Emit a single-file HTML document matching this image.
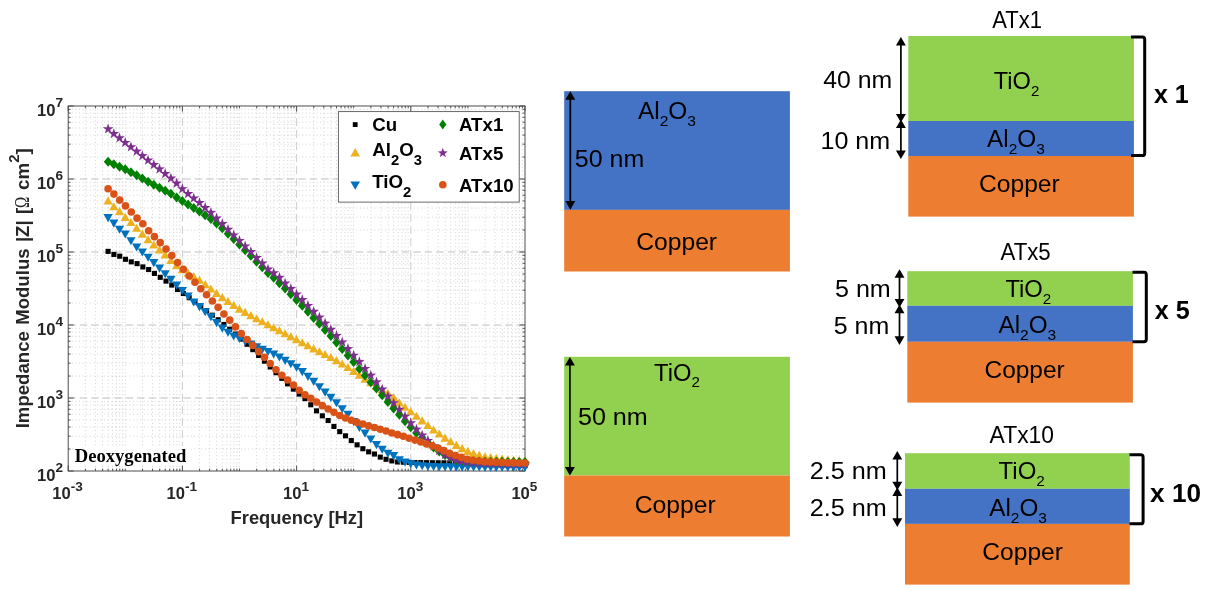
<!DOCTYPE html>
<html><head><meta charset="utf-8"><title>Impedance modulus figure</title>
<style>html,body{margin:0;padding:0;background:#fff}body{width:1207px;height:590px;position:relative;overflow:hidden}</style></head>
<body>
<svg width="1207" height="590" viewBox="0 0 1207 590" style="position:absolute;left:0;top:0">
<rect width="1207" height="590" fill="#fff"/>
<path d="M125.30 106.0V471.0M239.50 106.0V471.0M353.70 106.0V471.0M467.90 106.0V471.0M85.39 106.0V471.0M95.44 106.0V471.0M102.58 106.0V471.0M108.11 106.0V471.0M112.63 106.0V471.0M116.46 106.0V471.0M119.77 106.0V471.0M122.69 106.0V471.0M142.49 106.0V471.0M152.54 106.0V471.0M159.68 106.0V471.0M165.21 106.0V471.0M169.73 106.0V471.0M173.56 106.0V471.0M176.87 106.0V471.0M179.79 106.0V471.0M199.59 106.0V471.0M209.64 106.0V471.0M216.78 106.0V471.0M222.31 106.0V471.0M226.83 106.0V471.0M230.66 106.0V471.0M233.97 106.0V471.0M236.89 106.0V471.0M256.69 106.0V471.0M266.74 106.0V471.0M273.88 106.0V471.0M279.41 106.0V471.0M283.93 106.0V471.0M287.76 106.0V471.0M291.07 106.0V471.0M293.99 106.0V471.0M313.79 106.0V471.0M323.84 106.0V471.0M330.98 106.0V471.0M336.51 106.0V471.0M341.03 106.0V471.0M344.86 106.0V471.0M348.17 106.0V471.0M351.09 106.0V471.0M370.89 106.0V471.0M380.94 106.0V471.0M388.08 106.0V471.0M393.61 106.0V471.0M398.13 106.0V471.0M401.96 106.0V471.0M405.27 106.0V471.0M408.19 106.0V471.0M427.99 106.0V471.0M438.04 106.0V471.0M445.18 106.0V471.0M450.71 106.0V471.0M455.23 106.0V471.0M459.06 106.0V471.0M462.37 106.0V471.0M465.29 106.0V471.0M485.09 106.0V471.0M495.14 106.0V471.0M502.28 106.0V471.0M507.81 106.0V471.0M512.33 106.0V471.0M516.16 106.0V471.0M519.47 106.0V471.0M522.39 106.0V471.0M68.2 449.02H525.0M68.2 436.17H525.0M68.2 427.05H525.0M68.2 419.98H525.0M68.2 414.19H525.0M68.2 409.31H525.0M68.2 405.07H525.0M68.2 401.34H525.0M68.2 376.02H525.0M68.2 363.17H525.0M68.2 354.05H525.0M68.2 346.98H525.0M68.2 341.19H525.0M68.2 336.31H525.0M68.2 332.07H525.0M68.2 328.34H525.0M68.2 303.02H525.0M68.2 290.17H525.0M68.2 281.05H525.0M68.2 273.98H525.0M68.2 268.19H525.0M68.2 263.31H525.0M68.2 259.07H525.0M68.2 255.34H525.0M68.2 230.02H525.0M68.2 217.17H525.0M68.2 208.05H525.0M68.2 200.98H525.0M68.2 195.19H525.0M68.2 190.31H525.0M68.2 186.07H525.0M68.2 182.34H525.0M68.2 157.02H525.0M68.2 144.17H525.0M68.2 135.05H525.0M68.2 127.98H525.0M68.2 122.19H525.0M68.2 117.31H525.0M68.2 113.07H525.0M68.2 109.34H525.0" stroke="#d3d3d3" stroke-width="1" stroke-dasharray="1 2.6" fill="none"/>
<path d="M182.40 106.0V471.0M296.60 106.0V471.0M410.80 106.0V471.0" stroke="#c4c4c4" stroke-width="0.85" stroke-dasharray="8 4" fill="none"/>
<path d="M68.2 398.00H525.0M68.2 325.00H525.0M68.2 252.00H525.0M68.2 179.00H525.0" stroke="#c0c0c0" stroke-width="1.1" stroke-dasharray="7.5 4" fill="none"/>
<rect x="74" y="446" width="115" height="20" fill="#fff"/>
<path d="M68.20 471.0v-5.5M68.20 106.0v5.5M85.39 471.0v-2.4M85.39 106.0v2.4M95.44 471.0v-2.4M95.44 106.0v2.4M102.58 471.0v-2.4M102.58 106.0v2.4M108.11 471.0v-2.4M108.11 106.0v2.4M112.63 471.0v-2.4M112.63 106.0v2.4M116.46 471.0v-2.4M116.46 106.0v2.4M119.77 471.0v-2.4M119.77 106.0v2.4M122.69 471.0v-2.4M122.69 106.0v2.4M125.30 471.0v-2.4M125.30 106.0v2.4M142.49 471.0v-2.4M142.49 106.0v2.4M152.54 471.0v-2.4M152.54 106.0v2.4M159.68 471.0v-2.4M159.68 106.0v2.4M165.21 471.0v-2.4M165.21 106.0v2.4M169.73 471.0v-2.4M169.73 106.0v2.4M173.56 471.0v-2.4M173.56 106.0v2.4M176.87 471.0v-2.4M176.87 106.0v2.4M179.79 471.0v-2.4M179.79 106.0v2.4M182.40 471.0v-5.5M182.40 106.0v5.5M199.59 471.0v-2.4M199.59 106.0v2.4M209.64 471.0v-2.4M209.64 106.0v2.4M216.78 471.0v-2.4M216.78 106.0v2.4M222.31 471.0v-2.4M222.31 106.0v2.4M226.83 471.0v-2.4M226.83 106.0v2.4M230.66 471.0v-2.4M230.66 106.0v2.4M233.97 471.0v-2.4M233.97 106.0v2.4M236.89 471.0v-2.4M236.89 106.0v2.4M239.50 471.0v-2.4M239.50 106.0v2.4M256.69 471.0v-2.4M256.69 106.0v2.4M266.74 471.0v-2.4M266.74 106.0v2.4M273.88 471.0v-2.4M273.88 106.0v2.4M279.41 471.0v-2.4M279.41 106.0v2.4M283.93 471.0v-2.4M283.93 106.0v2.4M287.76 471.0v-2.4M287.76 106.0v2.4M291.07 471.0v-2.4M291.07 106.0v2.4M293.99 471.0v-2.4M293.99 106.0v2.4M296.60 471.0v-5.5M296.60 106.0v5.5M313.79 471.0v-2.4M313.79 106.0v2.4M323.84 471.0v-2.4M323.84 106.0v2.4M330.98 471.0v-2.4M330.98 106.0v2.4M336.51 471.0v-2.4M336.51 106.0v2.4M341.03 471.0v-2.4M341.03 106.0v2.4M344.86 471.0v-2.4M344.86 106.0v2.4M348.17 471.0v-2.4M348.17 106.0v2.4M351.09 471.0v-2.4M351.09 106.0v2.4M353.70 471.0v-2.4M353.70 106.0v2.4M370.89 471.0v-2.4M370.89 106.0v2.4M380.94 471.0v-2.4M380.94 106.0v2.4M388.08 471.0v-2.4M388.08 106.0v2.4M393.61 471.0v-2.4M393.61 106.0v2.4M398.13 471.0v-2.4M398.13 106.0v2.4M401.96 471.0v-2.4M401.96 106.0v2.4M405.27 471.0v-2.4M405.27 106.0v2.4M408.19 471.0v-2.4M408.19 106.0v2.4M410.80 471.0v-5.5M410.80 106.0v5.5M427.99 471.0v-2.4M427.99 106.0v2.4M438.04 471.0v-2.4M438.04 106.0v2.4M445.18 471.0v-2.4M445.18 106.0v2.4M450.71 471.0v-2.4M450.71 106.0v2.4M455.23 471.0v-2.4M455.23 106.0v2.4M459.06 471.0v-2.4M459.06 106.0v2.4M462.37 471.0v-2.4M462.37 106.0v2.4M465.29 471.0v-2.4M465.29 106.0v2.4M467.90 471.0v-2.4M467.90 106.0v2.4M485.09 471.0v-2.4M485.09 106.0v2.4M495.14 471.0v-2.4M495.14 106.0v2.4M502.28 471.0v-2.4M502.28 106.0v2.4M507.81 471.0v-2.4M507.81 106.0v2.4M512.33 471.0v-2.4M512.33 106.0v2.4M516.16 471.0v-2.4M516.16 106.0v2.4M519.47 471.0v-2.4M519.47 106.0v2.4M522.39 471.0v-2.4M522.39 106.0v2.4M525.00 471.0v-5.5M525.00 106.0v5.5M68.2 471.00h5.5M525.0 471.00h-5.5M68.2 449.02h2.4M525.0 449.02h-2.4M68.2 436.17h2.4M525.0 436.17h-2.4M68.2 427.05h2.4M525.0 427.05h-2.4M68.2 419.98h2.4M525.0 419.98h-2.4M68.2 414.19h2.4M525.0 414.19h-2.4M68.2 409.31h2.4M525.0 409.31h-2.4M68.2 405.07h2.4M525.0 405.07h-2.4M68.2 401.34h2.4M525.0 401.34h-2.4M68.2 398.00h5.5M525.0 398.00h-5.5M68.2 376.02h2.4M525.0 376.02h-2.4M68.2 363.17h2.4M525.0 363.17h-2.4M68.2 354.05h2.4M525.0 354.05h-2.4M68.2 346.98h2.4M525.0 346.98h-2.4M68.2 341.19h2.4M525.0 341.19h-2.4M68.2 336.31h2.4M525.0 336.31h-2.4M68.2 332.07h2.4M525.0 332.07h-2.4M68.2 328.34h2.4M525.0 328.34h-2.4M68.2 325.00h5.5M525.0 325.00h-5.5M68.2 303.02h2.4M525.0 303.02h-2.4M68.2 290.17h2.4M525.0 290.17h-2.4M68.2 281.05h2.4M525.0 281.05h-2.4M68.2 273.98h2.4M525.0 273.98h-2.4M68.2 268.19h2.4M525.0 268.19h-2.4M68.2 263.31h2.4M525.0 263.31h-2.4M68.2 259.07h2.4M525.0 259.07h-2.4M68.2 255.34h2.4M525.0 255.34h-2.4M68.2 252.00h5.5M525.0 252.00h-5.5M68.2 230.02h2.4M525.0 230.02h-2.4M68.2 217.17h2.4M525.0 217.17h-2.4M68.2 208.05h2.4M525.0 208.05h-2.4M68.2 200.98h2.4M525.0 200.98h-2.4M68.2 195.19h2.4M525.0 195.19h-2.4M68.2 190.31h2.4M525.0 190.31h-2.4M68.2 186.07h2.4M525.0 186.07h-2.4M68.2 182.34h2.4M525.0 182.34h-2.4M68.2 179.00h5.5M525.0 179.00h-5.5M68.2 157.02h2.4M525.0 157.02h-2.4M68.2 144.17h2.4M525.0 144.17h-2.4M68.2 135.05h2.4M525.0 135.05h-2.4M68.2 127.98h2.4M525.0 127.98h-2.4M68.2 122.19h2.4M525.0 122.19h-2.4M68.2 117.31h2.4M525.0 117.31h-2.4M68.2 113.07h2.4M525.0 113.07h-2.4M68.2 109.34h2.4M525.0 109.34h-2.4M68.2 106.00h5.5M525.0 106.00h-5.5" stroke="#444" stroke-width="0.9" fill="none"/>
<rect x="68.2" y="106.0" width="456.8" height="365.0" fill="none" stroke="#444" stroke-width="0.95"/>
<clipPath id="pc"><rect x="62.2" y="100.0" width="468.8" height="377.0"/></clipPath>
<g fill="#000000" clip-path="url(#pc)"><rect x="105.56" y="248.82" width="5.1" height="5.1"/><rect x="111.35" y="251.87" width="5.1" height="5.1"/><rect x="117.14" y="253.65" width="5.1" height="5.1"/><rect x="122.93" y="256.74" width="5.1" height="5.1"/><rect x="128.72" y="259.31" width="5.1" height="5.1"/><rect x="134.51" y="261.07" width="5.1" height="5.1"/><rect x="140.30" y="264.38" width="5.1" height="5.1"/><rect x="146.09" y="266.98" width="5.1" height="5.1"/><rect x="151.88" y="270.84" width="5.1" height="5.1"/><rect x="157.67" y="274.76" width="5.1" height="5.1"/><rect x="163.46" y="278.56" width="5.1" height="5.1"/><rect x="169.25" y="282.52" width="5.1" height="5.1"/><rect x="175.04" y="286.95" width="5.1" height="5.1"/><rect x="180.83" y="290.97" width="5.1" height="5.1"/><rect x="186.62" y="295.16" width="5.1" height="5.1"/><rect x="192.41" y="299.42" width="5.1" height="5.1"/><rect x="198.20" y="303.75" width="5.1" height="5.1"/><rect x="203.99" y="308.15" width="5.1" height="5.1"/><rect x="209.78" y="312.64" width="5.1" height="5.1"/><rect x="215.57" y="317.21" width="5.1" height="5.1"/><rect x="221.36" y="321.89" width="5.1" height="5.1"/><rect x="227.15" y="326.65" width="5.1" height="5.1"/><rect x="232.94" y="331.52" width="5.1" height="5.1"/><rect x="238.73" y="336.53" width="5.1" height="5.1"/><rect x="244.52" y="341.70" width="5.1" height="5.1"/><rect x="250.31" y="347.09" width="5.1" height="5.1"/><rect x="256.10" y="352.89" width="5.1" height="5.1"/><rect x="261.89" y="358.63" width="5.1" height="5.1"/><rect x="267.68" y="364.41" width="5.1" height="5.1"/><rect x="273.47" y="370.15" width="5.1" height="5.1"/><rect x="279.26" y="375.80" width="5.1" height="5.1"/><rect x="285.05" y="381.29" width="5.1" height="5.1"/><rect x="290.85" y="386.56" width="5.1" height="5.1"/><rect x="296.64" y="391.53" width="5.1" height="5.1"/><rect x="302.43" y="396.09" width="5.1" height="5.1"/><rect x="308.22" y="402.22" width="5.1" height="5.1"/><rect x="314.01" y="408.30" width="5.1" height="5.1"/><rect x="319.80" y="413.29" width="5.1" height="5.1"/><rect x="325.59" y="417.96" width="5.1" height="5.1"/><rect x="331.38" y="423.87" width="5.1" height="5.1"/><rect x="337.17" y="429.08" width="5.1" height="5.1"/><rect x="342.96" y="433.29" width="5.1" height="5.1"/><rect x="348.75" y="438.04" width="5.1" height="5.1"/><rect x="354.54" y="442.29" width="5.1" height="5.1"/><rect x="360.33" y="446.16" width="5.1" height="5.1"/><rect x="366.12" y="449.29" width="5.1" height="5.1"/><rect x="371.91" y="451.47" width="5.1" height="5.1"/><rect x="377.70" y="454.56" width="5.1" height="5.1"/><rect x="383.49" y="456.75" width="5.1" height="5.1"/><rect x="389.28" y="458.33" width="5.1" height="5.1"/><rect x="395.07" y="459.44" width="5.1" height="5.1"/><rect x="400.86" y="459.66" width="5.1" height="5.1"/><rect x="406.65" y="459.82" width="5.1" height="5.1"/><rect x="412.44" y="459.96" width="5.1" height="5.1"/><rect x="418.23" y="460.06" width="5.1" height="5.1"/><rect x="424.02" y="460.13" width="5.1" height="5.1"/><rect x="429.81" y="460.18" width="5.1" height="5.1"/><rect x="435.60" y="460.22" width="5.1" height="5.1"/><rect x="441.39" y="460.25" width="5.1" height="5.1"/><rect x="447.18" y="460.28" width="5.1" height="5.1"/><rect x="452.97" y="460.30" width="5.1" height="5.1"/><rect x="458.76" y="460.32" width="5.1" height="5.1"/><rect x="464.55" y="460.35" width="5.1" height="5.1"/><rect x="470.34" y="460.36" width="5.1" height="5.1"/><rect x="476.13" y="460.38" width="5.1" height="5.1"/><rect x="481.92" y="460.40" width="5.1" height="5.1"/><rect x="487.71" y="460.41" width="5.1" height="5.1"/><rect x="493.50" y="460.42" width="5.1" height="5.1"/><rect x="499.29" y="460.43" width="5.1" height="5.1"/><rect x="505.08" y="460.44" width="5.1" height="5.1"/><rect x="510.87" y="460.45" width="5.1" height="5.1"/><rect x="516.66" y="460.45" width="5.1" height="5.1"/><rect x="522.45" y="460.45" width="5.1" height="5.1"/></g>
<g fill="#EDB120" clip-path="url(#pc)"><path d="M108.11 196.49L112.71 204.59H103.51Z"/><path d="M113.82 202.13L118.42 210.23H109.22Z"/><path d="M119.53 207.06L124.13 215.16H114.93Z"/><path d="M125.24 212.80L129.84 220.90H120.64Z"/><path d="M130.95 218.01L135.55 226.11H126.35Z"/><path d="M136.66 223.71L141.26 231.81H132.06Z"/><path d="M142.37 229.62L146.97 237.72H137.77Z"/><path d="M148.08 235.15L152.68 243.25H143.48Z"/><path d="M153.79 240.49L158.39 248.59H149.19Z"/><path d="M159.50 245.41L164.10 253.51H154.90Z"/><path d="M165.21 250.40L169.81 258.50H160.61Z"/><path d="M170.92 255.89L175.52 263.99H166.32Z"/><path d="M176.63 261.14L181.23 269.24H172.03Z"/><path d="M182.34 265.20L186.94 273.30H177.74Z"/><path d="M188.05 268.68L192.65 276.78H183.45Z"/><path d="M193.76 272.04L198.36 280.14H189.16Z"/><path d="M199.47 275.71L204.07 283.81H194.87Z"/><path d="M205.18 280.05L209.78 288.15H200.58Z"/><path d="M210.89 284.50L215.49 292.60H206.29Z"/><path d="M216.60 288.78L221.20 296.88H212.00Z"/><path d="M222.31 293.09L226.91 301.19H217.71Z"/><path d="M228.02 297.02L232.62 305.12H223.42Z"/><path d="M233.73 300.97L238.33 309.07H229.13Z"/><path d="M239.44 304.55L244.04 312.65H234.84Z"/><path d="M245.15 307.85L249.75 315.95H240.55Z"/><path d="M250.86 311.04L255.46 319.14H246.26Z"/><path d="M256.57 314.16L261.17 322.26H251.97Z"/><path d="M262.28 317.21L266.88 325.31H257.68Z"/><path d="M267.99 320.22L272.59 328.32H263.39Z"/><path d="M273.70 323.21L278.30 331.31H269.10Z"/><path d="M279.41 326.17L284.01 334.27H274.81Z"/><path d="M285.12 329.14L289.72 337.24H280.52Z"/><path d="M290.83 332.13L295.43 340.23H286.23Z"/><path d="M296.54 335.15L301.14 343.25H291.94Z"/><path d="M302.25 338.20L306.85 346.30H297.65Z"/><path d="M307.96 341.27L312.56 349.37H303.36Z"/><path d="M313.67 344.28L318.27 352.38H309.07Z"/><path d="M319.38 347.16L323.98 355.26H314.78Z"/><path d="M325.09 349.98L329.69 358.08H320.49Z"/><path d="M330.80 352.93L335.40 361.03H326.20Z"/><path d="M336.51 356.12L341.11 364.22H331.91Z"/><path d="M342.22 359.49L346.82 367.59H337.62Z"/><path d="M347.93 363.02L352.53 371.12H343.33Z"/><path d="M353.64 366.78L358.24 374.88H349.04Z"/><path d="M359.35 370.73L363.95 378.83H354.75Z"/><path d="M365.06 374.55L369.66 382.65H360.46Z"/><path d="M370.77 378.08L375.37 386.18H366.17Z"/><path d="M376.48 381.54L381.08 389.64H371.88Z"/><path d="M382.19 385.14L386.79 393.24H377.59Z"/><path d="M387.90 388.77L392.50 396.87H383.30Z"/><path d="M393.61 392.92L398.21 401.02H389.01Z"/><path d="M399.32 398.35L403.92 406.45H394.72Z"/><path d="M405.03 402.77L409.63 410.87H400.43Z"/><path d="M410.74 407.18L415.34 415.28H406.14Z"/><path d="M416.45 411.73L421.05 419.83H411.85Z"/><path d="M422.16 416.36L426.76 424.46H417.56Z"/><path d="M427.87 420.97L432.47 429.07H423.27Z"/><path d="M433.58 425.41L438.18 433.51H428.98Z"/><path d="M439.29 429.52L443.89 437.62H434.69Z"/><path d="M445.00 433.58L449.60 441.68H440.40Z"/><path d="M450.71 437.16L455.31 445.26H446.11Z"/><path d="M456.42 440.86L461.02 448.96H451.82Z"/><path d="M462.13 444.11L466.73 452.21H457.53Z"/><path d="M467.84 446.83L472.44 454.93H463.24Z"/><path d="M473.55 448.90L478.15 457.00H468.95Z"/><path d="M479.26 450.75L483.86 458.85H474.66Z"/><path d="M484.97 452.19L489.57 460.29H480.37Z"/><path d="M490.68 452.98L495.28 461.08H486.08Z"/><path d="M496.39 453.76L500.99 461.86H491.79Z"/><path d="M502.10 454.52L506.70 462.62H497.50Z"/><path d="M507.81 455.13L512.41 463.23H503.21Z"/><path d="M513.52 455.65L518.12 463.75H508.92Z"/><path d="M519.23 456.10L523.83 464.20H514.63Z"/><path d="M524.94 456.45L529.54 464.55H520.34Z"/></g>
<g fill="#0072BD" clip-path="url(#pc)"><path d="M108.11 222.21L112.71 214.11H103.51Z"/><path d="M113.82 227.69L118.42 219.59H109.22Z"/><path d="M119.53 233.85L124.13 225.75H114.93Z"/><path d="M125.24 238.50L129.84 230.40H120.64Z"/><path d="M130.95 245.28L135.55 237.18H126.35Z"/><path d="M136.66 251.52L141.26 243.42H132.06Z"/><path d="M142.37 256.57L146.97 248.47H137.77Z"/><path d="M148.08 261.75L152.68 253.65H143.48Z"/><path d="M153.79 267.15L158.39 259.05H149.19Z"/><path d="M159.50 272.67L164.10 264.57H154.90Z"/><path d="M165.21 278.27L169.81 270.17H160.61Z"/><path d="M170.92 283.90L175.52 275.80H166.32Z"/><path d="M176.63 289.53L181.23 281.43H172.03Z"/><path d="M182.34 295.11L186.94 287.01H177.74Z"/><path d="M188.05 300.60L192.65 292.50H183.45Z"/><path d="M193.76 306.54L198.36 298.44H189.16Z"/><path d="M199.47 311.13L204.07 303.03H194.87Z"/><path d="M205.18 316.28L209.78 308.18H200.58Z"/><path d="M210.89 321.28L215.49 313.18H206.29Z"/><path d="M216.60 327.15L221.20 319.05H212.00Z"/><path d="M222.31 332.68L226.91 324.58H217.71Z"/><path d="M228.02 336.76L232.62 328.66H223.42Z"/><path d="M233.73 340.59L238.33 332.49H229.13Z"/><path d="M239.44 343.01L244.04 334.91H234.84Z"/><path d="M245.15 345.67L249.75 337.57H240.55Z"/><path d="M250.86 348.57L255.46 340.47H246.26Z"/><path d="M256.57 351.42L261.17 343.32H251.97Z"/><path d="M262.28 353.91L266.88 345.81H257.68Z"/><path d="M267.99 356.12L272.59 348.02H263.39Z"/><path d="M273.70 358.48L278.30 350.38H269.10Z"/><path d="M279.41 361.50L284.01 353.40H274.81Z"/><path d="M285.12 364.88L289.72 356.78H280.52Z"/><path d="M290.83 368.35L295.43 360.25H286.23Z"/><path d="M296.54 371.74L301.14 363.64H291.94Z"/><path d="M302.25 376.21L306.85 368.11H297.65Z"/><path d="M307.96 380.94L312.56 372.84H303.36Z"/><path d="M313.67 385.91L318.27 377.81H309.07Z"/><path d="M319.38 391.27L323.98 383.17H314.78Z"/><path d="M325.09 396.71L329.69 388.61H320.49Z"/><path d="M330.80 401.92L335.40 393.82H326.20Z"/><path d="M336.51 407.36L341.11 399.26H331.91Z"/><path d="M342.22 413.35L346.82 405.25H337.62Z"/><path d="M347.93 418.74L352.53 410.64H343.33Z"/><path d="M353.64 425.98L358.24 417.88H349.04Z"/><path d="M359.35 432.01L363.95 423.91H354.75Z"/><path d="M365.06 437.70L369.66 429.60H360.46Z"/><path d="M370.77 443.62L375.37 435.52H366.17Z"/><path d="M376.48 449.15L381.08 441.05H371.88Z"/><path d="M382.19 453.76L386.79 445.66H377.59Z"/><path d="M387.90 457.78L392.50 449.68H383.30Z"/><path d="M393.61 460.18L398.21 452.08H389.01Z"/><path d="M399.32 464.32L403.92 456.22H394.72Z"/><path d="M405.03 466.52L409.63 458.42H400.43Z"/><path d="M410.74 468.30L415.34 460.20H406.14Z"/><path d="M416.45 469.62L421.05 461.52H411.85Z"/><path d="M422.16 470.26L426.76 462.16H417.56Z"/><path d="M427.87 470.74L432.47 462.64H423.27Z"/><path d="M433.58 471.07L438.18 462.97H428.98Z"/><path d="M439.29 471.24L443.89 463.14H434.69Z"/><path d="M445.00 471.31L449.60 463.21H440.40Z"/><path d="M450.71 471.38L455.31 463.28H446.11Z"/><path d="M456.42 471.44L461.02 463.34H451.82Z"/><path d="M462.13 471.49L466.73 463.39H457.53Z"/><path d="M467.84 471.54L472.44 463.44H463.24Z"/><path d="M473.55 471.58L478.15 463.48H468.95Z"/><path d="M479.26 471.62L483.86 463.52H474.66Z"/><path d="M484.97 471.65L489.57 463.55H480.37Z"/><path d="M490.68 471.68L495.28 463.58H486.08Z"/><path d="M496.39 471.70L500.99 463.60H491.79Z"/><path d="M502.10 471.72L506.70 463.62H497.50Z"/><path d="M507.81 471.73L512.41 463.63H503.21Z"/><path d="M513.52 471.74L518.12 463.64H508.92Z"/><path d="M519.23 471.75L523.83 463.65H514.63Z"/><path d="M524.94 471.75L529.54 463.65H520.34Z"/></g>
<g fill="#008000" clip-path="url(#pc)"><path d="M108.11 156.86L112.41 161.86L108.11 166.86L103.81 161.86Z"/><path d="M113.82 159.16L118.12 164.16L113.82 169.16L109.52 164.16Z"/><path d="M119.53 161.65L123.83 166.65L119.53 171.65L115.23 166.65Z"/><path d="M125.24 164.35L129.54 169.35L125.24 174.35L120.94 169.35Z"/><path d="M130.95 167.22L135.25 172.22L130.95 177.22L126.65 172.22Z"/><path d="M136.66 170.29L140.96 175.29L136.66 180.29L132.36 175.29Z"/><path d="M142.37 173.46L146.67 178.46L142.37 183.46L138.07 178.46Z"/><path d="M148.08 176.66L152.38 181.66L148.08 186.66L143.78 181.66Z"/><path d="M153.79 179.83L158.09 184.83L153.79 189.83L149.49 184.83Z"/><path d="M159.50 182.81L163.80 187.81L159.50 192.81L155.20 187.81Z"/><path d="M165.21 185.74L169.51 190.74L165.21 195.74L160.91 190.74Z"/><path d="M170.92 188.77L175.22 193.77L170.92 198.77L166.62 193.77Z"/><path d="M176.63 192.53L180.93 197.53L176.63 202.53L172.33 197.53Z"/><path d="M182.34 195.99L186.64 200.99L182.34 205.99L178.04 200.99Z"/><path d="M188.05 199.48L192.35 204.48L188.05 209.48L183.75 204.48Z"/><path d="M193.76 202.97L198.06 207.97L193.76 212.97L189.46 207.97Z"/><path d="M199.47 206.46L203.77 211.46L199.47 216.46L195.17 211.46Z"/><path d="M205.18 210.13L209.48 215.13L205.18 220.13L200.88 215.13Z"/><path d="M210.89 213.93L215.19 218.93L210.89 223.93L206.59 218.93Z"/><path d="M216.60 218.48L220.90 223.48L216.60 228.48L212.30 223.48Z"/><path d="M222.31 223.34L226.61 228.34L222.31 233.34L218.01 228.34Z"/><path d="M228.02 228.77L232.32 233.77L228.02 238.77L223.72 233.77Z"/><path d="M233.73 233.90L238.03 238.90L233.73 243.90L229.43 238.90Z"/><path d="M239.44 239.53L243.74 244.53L239.44 249.53L235.14 244.53Z"/><path d="M245.15 245.26L249.45 250.26L245.15 255.26L240.85 250.26Z"/><path d="M250.86 250.86L255.16 255.86L250.86 260.86L246.56 255.86Z"/><path d="M256.57 256.75L260.87 261.75L256.57 266.75L252.27 261.75Z"/><path d="M262.28 262.33L266.58 267.33L262.28 272.33L257.98 267.33Z"/><path d="M267.99 267.97L272.29 272.97L267.99 277.97L263.69 272.97Z"/><path d="M273.70 272.81L278.00 277.81L273.70 282.81L269.40 277.81Z"/><path d="M279.41 278.24L283.71 283.24L279.41 288.24L275.11 283.24Z"/><path d="M285.12 283.58L289.42 288.58L285.12 293.58L280.82 288.58Z"/><path d="M290.83 289.21L295.13 294.21L290.83 299.21L286.53 294.21Z"/><path d="M296.54 295.10L300.84 300.10L296.54 305.10L292.24 300.10Z"/><path d="M302.25 300.83L306.55 305.83L302.25 310.83L297.95 305.83Z"/><path d="M307.96 306.87L312.26 311.87L307.96 316.87L303.66 311.87Z"/><path d="M313.67 312.91L317.97 317.91L313.67 322.91L309.37 317.91Z"/><path d="M319.38 318.82L323.68 323.82L319.38 328.82L315.08 323.82Z"/><path d="M325.09 324.89L329.39 329.89L325.09 334.89L320.79 329.89Z"/><path d="M330.80 330.96L335.10 335.96L330.80 340.96L326.50 335.96Z"/><path d="M336.51 337.38L340.81 342.38L336.51 347.38L332.21 342.38Z"/><path d="M342.22 343.89L346.52 348.89L342.22 353.89L337.92 348.89Z"/><path d="M347.93 350.45L352.23 355.45L347.93 360.45L343.63 355.45Z"/><path d="M353.64 357.11L357.94 362.11L353.64 367.11L349.34 362.11Z"/><path d="M359.35 364.01L363.65 369.01L359.35 374.01L355.05 369.01Z"/><path d="M365.06 370.60L369.36 375.60L365.06 380.60L360.76 375.60Z"/><path d="M370.77 377.26L375.07 382.26L370.77 387.26L366.47 382.26Z"/><path d="M376.48 383.60L380.78 388.60L376.48 393.60L372.18 388.60Z"/><path d="M382.19 390.19L386.49 395.19L382.19 400.19L377.89 395.19Z"/><path d="M387.90 396.99L392.20 401.99L387.90 406.99L383.60 401.99Z"/><path d="M393.61 403.45L397.91 408.45L393.61 413.45L389.31 408.45Z"/><path d="M399.32 409.85L403.62 414.85L399.32 419.85L395.02 414.85Z"/><path d="M405.03 416.19L409.33 421.19L405.03 426.19L400.73 421.19Z"/><path d="M410.74 422.28L415.04 427.28L410.74 432.28L406.44 427.28Z"/><path d="M416.45 427.91L420.75 432.91L416.45 437.91L412.15 432.91Z"/><path d="M422.16 432.86L426.46 437.86L422.16 442.86L417.86 437.86Z"/><path d="M427.87 437.63L432.17 442.63L427.87 447.63L423.57 442.63Z"/><path d="M433.58 442.53L437.88 447.53L433.58 452.53L429.28 447.53Z"/><path d="M439.29 446.38L443.59 451.38L439.29 456.38L434.99 451.38Z"/><path d="M445.00 449.97L449.30 454.97L445.00 459.97L440.70 454.97Z"/><path d="M450.71 452.84L455.01 457.84L450.71 462.84L446.41 457.84Z"/><path d="M456.42 454.99L460.72 459.99L456.42 464.99L452.12 459.99Z"/><path d="M462.13 455.56L466.43 460.56L462.13 465.56L457.83 460.56Z"/><path d="M467.84 455.89L472.14 460.89L467.84 465.89L463.54 460.89Z"/><path d="M473.55 456.17L477.85 461.17L473.55 466.17L469.25 461.17Z"/><path d="M479.26 456.41L483.56 461.41L479.26 466.41L474.96 461.41Z"/><path d="M484.97 456.60L489.27 461.60L484.97 466.60L480.67 461.60Z"/><path d="M490.68 456.71L494.98 461.71L490.68 466.71L486.38 461.71Z"/><path d="M496.39 456.79L500.69 461.79L496.39 466.79L492.09 461.79Z"/><path d="M502.10 456.86L506.40 461.86L502.10 466.86L497.80 461.86Z"/><path d="M507.81 456.92L512.11 461.92L507.81 466.92L503.51 461.92Z"/><path d="M513.52 456.96L517.82 461.96L513.52 466.96L509.22 461.96Z"/><path d="M519.23 456.99L523.53 461.99L519.23 466.99L514.93 461.99Z"/><path d="M524.94 457.00L529.24 462.00L524.94 467.00L520.64 462.00Z"/></g>
<g fill="#7E2F8E" clip-path="url(#pc)"><path d="M108.11 123.48L109.40 127.30L113.44 127.35L110.20 129.76L111.40 133.61L108.11 131.28L104.82 133.61L106.02 129.76L102.79 127.35L106.82 127.30Z"/><path d="M113.82 128.19L115.11 132.01L119.15 132.06L115.91 134.47L117.11 138.32L113.82 135.99L110.53 138.32L111.73 134.47L108.50 132.06L112.53 132.01Z"/><path d="M119.53 132.42L120.82 136.24L124.86 136.29L121.62 138.70L122.82 142.55L119.53 140.22L116.24 142.55L117.44 138.70L114.21 136.29L118.24 136.24Z"/><path d="M125.24 137.07L126.53 140.89L130.57 140.94L127.33 143.35L128.53 147.21L125.24 144.87L121.95 147.21L123.15 143.35L119.92 140.94L123.95 140.89Z"/><path d="M130.95 141.44L132.24 145.26L136.28 145.30L133.04 147.71L134.24 151.57L130.95 149.24L127.66 151.57L128.86 147.71L125.63 145.30L129.66 145.26Z"/><path d="M136.66 145.76L137.95 149.58L141.99 149.63L138.75 152.04L139.95 155.89L136.66 153.56L133.37 155.89L134.57 152.04L131.34 149.63L135.37 149.58Z"/><path d="M142.37 150.29L143.66 154.11L147.70 154.16L144.46 156.57L145.66 160.42L142.37 158.09L139.08 160.42L140.28 156.57L137.05 154.16L141.08 154.11Z"/><path d="M148.08 154.64L149.37 158.46L153.41 158.51L150.17 160.92L151.37 164.77L148.08 162.44L144.79 164.77L145.99 160.92L142.76 158.51L146.79 158.46Z"/><path d="M153.79 159.19L155.08 163.01L159.12 163.06L155.88 165.47L157.08 169.32L153.79 166.99L150.50 169.32L151.70 165.47L148.47 163.06L152.50 163.01Z"/><path d="M159.50 163.53L160.79 167.35L164.83 167.40L161.59 169.81L162.79 173.66L159.50 171.33L156.21 173.66L157.41 169.81L154.18 167.40L158.21 167.35Z"/><path d="M165.21 168.08L166.50 171.90L170.54 171.95L167.30 174.36L168.50 178.21L165.21 175.88L161.92 178.21L163.12 174.36L159.89 171.95L163.92 171.90Z"/><path d="M170.92 172.69L172.21 176.51L176.25 176.56L173.01 178.97L174.21 182.82L170.92 180.49L167.63 182.82L168.83 178.97L165.60 176.56L169.63 176.51Z"/><path d="M176.63 177.79L177.92 181.61L181.96 181.66L178.72 184.07L179.92 187.92L176.63 185.59L173.34 187.92L174.54 184.07L171.31 181.66L175.34 181.61Z"/><path d="M182.34 183.32L183.63 187.14L187.67 187.18L184.43 189.59L185.63 193.45L182.34 191.12L179.05 193.45L180.25 189.59L177.02 187.18L181.05 187.14Z"/><path d="M188.05 188.12L189.34 191.94L193.38 191.99L190.14 194.40L191.34 198.25L188.05 195.92L184.76 198.25L185.96 194.40L182.73 191.99L186.76 191.94Z"/><path d="M193.76 192.68L195.05 196.50L199.09 196.55L195.85 198.96L197.05 202.81L193.76 200.48L190.47 202.81L191.67 198.96L188.44 196.55L192.47 196.50Z"/><path d="M199.47 197.16L200.76 200.98L204.80 201.03L201.56 203.44L202.76 207.29L199.47 204.96L196.18 207.29L197.38 203.44L194.15 201.03L198.18 200.98Z"/><path d="M205.18 202.10L206.47 205.92L210.51 205.97L207.27 208.38L208.47 212.23L205.18 209.90L201.89 212.23L203.09 208.38L199.86 205.97L203.89 205.92Z"/><path d="M210.89 207.01L212.18 210.83L216.22 210.88L212.98 213.29L214.18 217.14L210.89 214.81L207.60 217.14L208.80 213.29L205.57 210.88L209.60 210.83Z"/><path d="M216.60 212.60L217.89 216.42L221.93 216.47L218.69 218.88L219.89 222.73L216.60 220.40L213.31 222.73L214.51 218.88L211.28 216.47L215.31 216.42Z"/><path d="M222.31 218.13L223.60 221.95L227.64 222.00L224.40 224.41L225.60 228.26L222.31 225.93L219.02 228.26L220.22 224.41L216.99 222.00L221.02 221.95Z"/><path d="M228.02 224.00L229.31 227.82L233.35 227.87L230.11 230.28L231.31 234.14L228.02 231.80L224.73 234.14L225.93 230.28L222.70 227.87L226.73 227.82Z"/><path d="M233.73 229.57L235.02 233.39L239.06 233.44L235.82 235.85L237.02 239.70L233.73 237.37L230.44 239.70L231.64 235.85L228.41 233.44L232.44 233.39Z"/><path d="M239.44 235.08L240.73 238.90L244.77 238.95L241.53 241.36L242.73 245.21L239.44 242.88L236.15 245.21L237.35 241.36L234.12 238.95L238.15 238.90Z"/><path d="M245.15 240.59L246.44 244.41L250.48 244.45L247.24 246.87L248.44 250.72L245.15 248.39L241.86 250.72L243.06 246.87L239.83 244.45L243.86 244.41Z"/><path d="M250.86 246.15L252.15 249.98L256.19 250.02L252.95 252.43L254.15 256.29L250.86 253.95L247.57 256.29L248.77 252.43L245.54 250.02L249.57 249.98Z"/><path d="M256.57 252.14L257.86 255.96L261.90 256.01L258.66 258.42L259.86 262.27L256.57 259.94L253.28 262.27L254.48 258.42L251.25 256.01L255.28 255.96Z"/><path d="M262.28 257.72L263.57 261.54L267.61 261.58L264.37 264.00L265.57 267.85L262.28 265.52L258.99 267.85L260.19 264.00L256.96 261.58L260.99 261.54Z"/><path d="M267.99 263.64L269.28 267.46L273.32 267.51L270.08 269.92L271.28 273.77L267.99 271.44L264.70 273.77L265.90 269.92L262.67 267.51L266.70 267.46Z"/><path d="M273.70 267.45L274.99 271.27L279.03 271.32L275.79 273.73L276.99 277.58L273.70 275.25L270.41 277.58L271.61 273.73L268.38 271.32L272.41 271.27Z"/><path d="M279.41 272.01L280.70 275.83L284.74 275.88L281.50 278.29L282.70 282.14L279.41 279.81L276.12 282.14L277.32 278.29L274.09 275.88L278.12 275.83Z"/><path d="M285.12 277.67L286.41 281.49L290.45 281.54L287.21 283.95L288.41 287.80L285.12 285.47L281.83 287.80L283.03 283.95L279.80 281.54L283.83 281.49Z"/><path d="M290.83 283.16L292.12 286.98L296.16 287.03L292.92 289.44L294.12 293.29L290.83 290.96L287.54 293.29L288.74 289.44L285.51 287.03L289.54 286.98Z"/><path d="M296.54 288.68L297.83 292.50L301.87 292.55L298.63 294.96L299.83 298.81L296.54 296.48L293.25 298.81L294.45 294.96L291.22 292.55L295.25 292.50Z"/><path d="M302.25 294.21L303.54 298.03L307.58 298.08L304.34 300.49L305.54 304.34L302.25 302.01L298.96 304.34L300.16 300.49L296.93 298.08L300.96 298.03Z"/><path d="M307.96 300.06L309.25 303.88L313.29 303.93L310.05 306.34L311.25 310.19L307.96 307.86L304.67 310.19L305.87 306.34L302.64 303.93L306.67 303.88Z"/><path d="M313.67 305.98L314.96 309.80L319.00 309.85L315.76 312.26L316.96 316.11L313.67 313.78L310.38 316.11L311.58 312.26L308.35 309.85L312.38 309.80Z"/><path d="M319.38 311.76L320.67 315.58L324.71 315.63L321.47 318.04L322.67 321.89L319.38 319.56L316.09 321.89L317.29 318.04L314.06 315.63L318.09 315.58Z"/><path d="M325.09 317.77L326.38 321.59L330.42 321.64L327.18 324.05L328.38 327.90L325.09 325.57L321.80 327.90L323.00 324.05L319.77 321.64L323.80 321.59Z"/><path d="M330.80 323.88L332.09 327.70L336.13 327.75L332.89 330.16L334.09 334.01L330.80 331.68L327.51 334.01L328.71 330.16L325.48 327.75L329.51 327.70Z"/><path d="M336.51 330.12L337.80 333.94L341.84 333.99L338.60 336.40L339.80 340.25L336.51 337.92L333.22 340.25L334.42 336.40L331.19 333.99L335.22 333.94Z"/><path d="M342.22 336.56L343.51 340.38L347.55 340.43L344.31 342.84L345.51 346.69L342.22 344.36L338.93 346.69L340.13 342.84L336.90 340.43L340.93 340.38Z"/><path d="M347.93 343.26L349.22 347.08L353.26 347.13L350.02 349.54L351.22 353.39L347.93 351.06L344.64 353.39L345.84 349.54L342.61 347.13L346.64 347.08Z"/><path d="M353.64 349.83L354.93 353.65L358.97 353.70L355.73 356.11L356.93 359.96L353.64 357.63L350.35 359.96L351.55 356.11L348.32 353.70L352.35 353.65Z"/><path d="M359.35 356.26L360.64 360.08L364.68 360.13L361.44 362.54L362.64 366.39L359.35 364.06L356.06 366.39L357.26 362.54L354.03 360.13L358.06 360.08Z"/><path d="M365.06 363.08L366.35 366.90L370.39 366.95L367.15 369.36L368.35 373.21L365.06 370.88L361.77 373.21L362.97 369.36L359.74 366.95L363.77 366.90Z"/><path d="M370.77 369.78L372.06 373.60L376.10 373.65L372.86 376.06L374.06 379.91L370.77 377.58L367.48 379.91L368.68 376.06L365.45 373.65L369.48 373.60Z"/><path d="M376.48 376.55L377.77 380.37L381.81 380.42L378.57 382.83L379.77 386.68L376.48 384.35L373.19 386.68L374.39 382.83L371.16 380.42L375.19 380.37Z"/><path d="M382.19 383.75L383.48 387.57L387.52 387.62L384.28 390.03L385.48 393.88L382.19 391.55L378.90 393.88L380.10 390.03L376.87 387.62L380.90 387.57Z"/><path d="M387.90 390.78L389.19 394.60L393.23 394.65L389.99 397.06L391.19 400.91L387.90 398.58L384.61 400.91L385.81 397.06L382.58 394.65L386.61 394.60Z"/><path d="M393.61 397.33L394.90 401.15L398.94 401.20L395.70 403.61L396.90 407.46L393.61 405.13L390.32 407.46L391.52 403.61L388.29 401.20L392.32 401.15Z"/><path d="M399.32 403.98L400.61 407.80L404.65 407.85L401.41 410.26L402.61 414.11L399.32 411.78L396.03 414.11L397.23 410.26L394.00 407.85L398.03 407.80Z"/><path d="M405.03 410.82L406.32 414.64L410.36 414.69L407.12 417.10L408.32 420.95L405.03 418.62L401.74 420.95L402.94 417.10L399.71 414.69L403.74 414.64Z"/><path d="M410.74 417.35L412.03 421.17L416.07 421.22L412.83 423.63L414.03 427.48L410.74 425.15L407.45 427.48L408.65 423.63L405.42 421.22L409.45 421.17Z"/><path d="M416.45 423.77L417.74 427.59L421.78 427.64L418.54 430.05L419.74 433.90L416.45 431.57L413.16 433.90L414.36 430.05L411.13 427.64L415.16 427.59Z"/><path d="M422.16 429.69L423.45 433.51L427.49 433.56L424.25 435.97L425.45 439.82L422.16 437.49L418.87 439.82L420.07 435.97L416.84 433.56L420.87 433.51Z"/><path d="M427.87 435.07L429.16 438.89L433.20 438.94L429.96 441.35L431.16 445.20L427.87 442.87L424.58 445.20L425.78 441.35L422.55 438.94L426.58 438.89Z"/><path d="M433.58 440.57L434.87 444.39L438.91 444.44L435.67 446.85L436.87 450.70L433.58 448.37L430.29 450.70L431.49 446.85L428.26 444.44L432.29 444.39Z"/><path d="M439.29 445.03L440.58 448.85L444.62 448.90L441.38 451.31L442.58 455.16L439.29 452.83L436.00 455.16L437.20 451.31L433.97 448.90L438.00 448.85Z"/><path d="M445.00 449.17L446.29 452.99L450.33 453.04L447.09 455.45L448.29 459.30L445.00 456.97L441.71 459.30L442.91 455.45L439.68 453.04L443.71 452.99Z"/><path d="M450.71 452.23L452.00 456.06L456.04 456.10L452.80 458.51L454.00 462.37L450.71 460.03L447.42 462.37L448.62 458.51L445.39 456.10L449.42 456.06Z"/><path d="M456.42 454.54L457.71 458.36L461.75 458.41L458.51 460.82L459.71 464.67L456.42 462.34L453.13 464.67L454.33 460.82L451.10 458.41L455.13 458.36Z"/><path d="M462.13 455.71L463.42 459.53L467.46 459.58L464.22 461.99L465.42 465.84L462.13 463.51L458.84 465.84L460.04 461.99L456.81 459.58L460.84 459.53Z"/><path d="M467.84 456.49L469.13 460.31L473.17 460.36L469.93 462.77L471.13 466.62L467.84 464.29L464.55 466.62L465.75 462.77L462.52 460.36L466.55 460.31Z"/><path d="M473.55 457.00L474.84 460.82L478.88 460.87L475.64 463.28L476.84 467.14L473.55 464.80L470.26 467.14L471.46 463.28L468.23 460.87L472.26 460.82Z"/><path d="M479.26 457.42L480.55 461.24L484.59 461.29L481.35 463.70L482.55 467.55L479.26 465.22L475.97 467.55L477.17 463.70L473.94 461.29L477.97 461.24Z"/><path d="M484.97 457.73L486.26 461.55L490.30 461.60L487.06 464.01L488.26 467.86L484.97 465.53L481.68 467.86L482.88 464.01L479.65 461.60L483.68 461.55Z"/><path d="M490.68 457.92L491.97 461.74L496.01 461.79L492.77 464.20L493.97 468.05L490.68 465.72L487.39 468.05L488.59 464.20L485.36 461.79L489.39 461.74Z"/><path d="M496.39 458.05L497.68 461.87L501.72 461.92L498.48 464.33L499.68 468.18L496.39 465.85L493.10 468.18L494.30 464.33L491.07 461.92L495.10 461.87Z"/><path d="M502.10 458.16L503.39 461.98L507.43 462.03L504.19 464.44L505.39 468.30L502.10 465.96L498.81 468.30L500.01 464.44L496.78 462.03L500.81 461.98Z"/><path d="M507.81 458.26L509.10 462.08L513.14 462.13L509.90 464.54L511.10 468.39L507.81 466.06L504.52 468.39L505.72 464.54L502.49 462.13L506.52 462.08Z"/><path d="M513.52 458.34L514.81 462.16L518.85 462.21L515.61 464.62L516.81 468.47L513.52 466.14L510.23 468.47L511.43 464.62L508.20 462.21L512.23 462.16Z"/><path d="M519.23 458.38L520.52 462.20L524.56 462.25L521.32 464.66L522.52 468.51L519.23 466.18L515.94 468.51L517.14 464.66L513.91 462.25L517.94 462.20Z"/><path d="M524.94 458.40L526.23 462.22L530.27 462.27L527.03 464.68L528.23 468.53L524.94 466.20L521.65 468.53L522.85 464.68L519.62 462.27L523.65 462.22Z"/></g>
<g fill="#D95319" clip-path="url(#pc)"><circle cx="108.11" cy="188.75" r="3.8"/><circle cx="113.90" cy="194.09" r="3.8"/><circle cx="119.69" cy="200.10" r="3.8"/><circle cx="125.48" cy="205.88" r="3.8"/><circle cx="131.27" cy="211.98" r="3.8"/><circle cx="137.06" cy="218.16" r="3.8"/><circle cx="142.85" cy="223.76" r="3.8"/><circle cx="148.64" cy="230.77" r="3.8"/><circle cx="154.43" cy="236.64" r="3.8"/><circle cx="160.22" cy="242.65" r="3.8"/><circle cx="166.01" cy="249.05" r="3.8"/><circle cx="171.80" cy="255.59" r="3.8"/><circle cx="177.59" cy="262.62" r="3.8"/><circle cx="183.38" cy="269.37" r="3.8"/><circle cx="189.17" cy="275.93" r="3.8"/><circle cx="194.96" cy="282.25" r="3.8"/><circle cx="200.75" cy="288.70" r="3.8"/><circle cx="206.54" cy="294.77" r="3.8"/><circle cx="212.33" cy="301.06" r="3.8"/><circle cx="218.12" cy="307.35" r="3.8"/><circle cx="223.91" cy="313.95" r="3.8"/><circle cx="229.70" cy="320.14" r="3.8"/><circle cx="235.49" cy="326.90" r="3.8"/><circle cx="241.28" cy="333.64" r="3.8"/><circle cx="247.07" cy="339.48" r="3.8"/><circle cx="252.86" cy="345.40" r="3.8"/><circle cx="258.65" cy="351.67" r="3.8"/><circle cx="264.44" cy="357.36" r="3.8"/><circle cx="270.23" cy="363.46" r="3.8"/><circle cx="276.02" cy="369.73" r="3.8"/><circle cx="281.81" cy="375.19" r="3.8"/><circle cx="287.60" cy="379.95" r="3.8"/><circle cx="293.40" cy="385.06" r="3.8"/><circle cx="299.19" cy="390.29" r="3.8"/><circle cx="304.98" cy="394.72" r="3.8"/><circle cx="310.77" cy="398.31" r="3.8"/><circle cx="316.56" cy="402.10" r="3.8"/><circle cx="322.35" cy="405.63" r="3.8"/><circle cx="328.14" cy="409.04" r="3.8"/><circle cx="333.93" cy="412.33" r="3.8"/><circle cx="339.72" cy="415.50" r="3.8"/><circle cx="345.51" cy="417.93" r="3.8"/><circle cx="351.30" cy="420.30" r="3.8"/><circle cx="357.09" cy="422.40" r="3.8"/><circle cx="362.88" cy="424.06" r="3.8"/><circle cx="368.67" cy="425.92" r="3.8"/><circle cx="374.46" cy="427.52" r="3.8"/><circle cx="380.25" cy="429.27" r="3.8"/><circle cx="386.04" cy="430.96" r="3.8"/><circle cx="391.83" cy="433.03" r="3.8"/><circle cx="397.62" cy="434.67" r="3.8"/><circle cx="403.41" cy="436.30" r="3.8"/><circle cx="409.20" cy="438.25" r="3.8"/><circle cx="414.99" cy="440.10" r="3.8"/><circle cx="420.78" cy="442.03" r="3.8"/><circle cx="426.57" cy="444.02" r="3.8"/><circle cx="432.36" cy="445.87" r="3.8"/><circle cx="438.15" cy="448.17" r="3.8"/><circle cx="443.94" cy="450.67" r="3.8"/><circle cx="449.73" cy="453.37" r="3.8"/><circle cx="455.52" cy="455.49" r="3.8"/><circle cx="461.31" cy="457.37" r="3.8"/><circle cx="467.10" cy="459.18" r="3.8"/><circle cx="472.89" cy="460.24" r="3.8"/><circle cx="478.68" cy="461.04" r="3.8"/><circle cx="484.47" cy="461.63" r="3.8"/><circle cx="490.26" cy="462.01" r="3.8"/><circle cx="496.05" cy="462.28" r="3.8"/><circle cx="501.84" cy="462.52" r="3.8"/><circle cx="507.63" cy="462.71" r="3.8"/><circle cx="513.42" cy="462.87" r="3.8"/><circle cx="519.21" cy="462.97" r="3.8"/><circle cx="525.00" cy="463.00" r="3.8"/></g>
<text x="67.6" y="498.9" text-anchor="middle" font-size="16.6" font-family="Liberation Sans, sans-serif" font-weight="bold" fill="#262626">10<tspan dy="-8.4" font-size="13.6">-3</tspan></text>
<text x="181.8" y="498.9" text-anchor="middle" font-size="16.6" font-family="Liberation Sans, sans-serif" font-weight="bold" fill="#262626">10<tspan dy="-8.4" font-size="13.6">-1</tspan></text>
<text x="296.0" y="498.9" text-anchor="middle" font-size="16.6" font-family="Liberation Sans, sans-serif" font-weight="bold" fill="#262626">10<tspan dy="-8.4" font-size="13.6">1</tspan></text>
<text x="410.2" y="498.9" text-anchor="middle" font-size="16.6" font-family="Liberation Sans, sans-serif" font-weight="bold" fill="#262626">10<tspan dy="-8.4" font-size="13.6">3</tspan></text>
<text x="524.4" y="498.9" text-anchor="middle" font-size="16.6" font-family="Liberation Sans, sans-serif" font-weight="bold" fill="#262626">10<tspan dy="-8.4" font-size="13.6">5</tspan></text>
<text x="63" y="480.5" text-anchor="end" font-size="16.6" font-family="Liberation Sans, sans-serif" font-weight="bold" fill="#262626">10<tspan dy="-8.4" font-size="13.6">2</tspan></text>
<text x="63" y="407.5" text-anchor="end" font-size="16.6" font-family="Liberation Sans, sans-serif" font-weight="bold" fill="#262626">10<tspan dy="-8.4" font-size="13.6">3</tspan></text>
<text x="63" y="334.5" text-anchor="end" font-size="16.6" font-family="Liberation Sans, sans-serif" font-weight="bold" fill="#262626">10<tspan dy="-8.4" font-size="13.6">4</tspan></text>
<text x="63" y="261.5" text-anchor="end" font-size="16.6" font-family="Liberation Sans, sans-serif" font-weight="bold" fill="#262626">10<tspan dy="-8.4" font-size="13.6">5</tspan></text>
<text x="63" y="188.5" text-anchor="end" font-size="16.6" font-family="Liberation Sans, sans-serif" font-weight="bold" fill="#262626">10<tspan dy="-8.4" font-size="13.6">6</tspan></text>
<text x="63" y="115.5" text-anchor="end" font-size="16.6" font-family="Liberation Sans, sans-serif" font-weight="bold" fill="#262626">10<tspan dy="-8.4" font-size="13.6">7</tspan></text>
<text x="296.8" y="524" text-anchor="middle" font-size="18.35" font-family="Liberation Sans, sans-serif" font-weight="bold" fill="#262626">Frequency [Hz]</text>
<g transform="translate(28.7 288.5) rotate(-90)" font-size="18.8" font-family="Liberation Sans, sans-serif" font-weight="bold" fill="#262626"><text x="-139.8" font-size="18.6" word-spacing="1.15">Impedance Modulus |Z| [</text><text transform="translate(80.4 0) scale(0.8 1.12)" font-family="Liberation Serif, serif" font-weight="normal">Ω</text><text x="98.6">cm<tspan dy="-9.7" font-size="14.8">2</tspan><tspan dy="9.7">]</tspan></text></g>
<text x="74.8" y="461.9" font-size="18.6" font-family="Liberation Serif, serif" font-weight="bold" fill="#000">Deoxygenated</text>
<rect x="338.4" y="111.6" width="180.8" height="90.5" fill="#fff" stroke="#5a5a5a" stroke-width="0.9"/>
<g fill="#000"><rect x="352.80" y="122.20" width="4.8" height="4.8"/></g>
<g fill="#EDB120"><path d="M355.20 148.00L360.00 156.40H350.40Z"/></g>
<g fill="#0072BD"><path d="M355.20 189.80L360.00 181.40H350.40Z"/></g>
<g fill="#008000"><path d="M442.80 119.60L446.40 124.60L442.80 129.60L439.20 124.60Z"/></g>
<g fill="#7E2F8E"><path d="M442.80 147.80L444.03 151.30L447.75 151.39L444.80 153.65L445.86 157.21L442.80 155.10L439.74 157.21L440.80 153.65L437.85 151.39L441.57 151.30Z"/></g>
<g fill="#D95319"><circle cx="442.80" cy="184.80" r="3.8"/></g>
<text x="372.3" y="131" font-family="Liberation Sans, sans-serif" font-weight="bold" fill="#000" font-size="18.7">Cu</text>
<text x="372.3" y="156" font-family="Liberation Sans, sans-serif" font-weight="bold" fill="#000" font-size="18.7">Al<tspan dy="9.3" font-size="14.8">2</tspan><tspan dy="-9.3">O</tspan><tspan dy="9.3" font-size="14.8">3</tspan></text>
<text x="372.3" y="187.5" font-family="Liberation Sans, sans-serif" font-weight="bold" fill="#000" font-size="18.7">TiO<tspan dy="9.3" font-size="14.8">2</tspan></text>
<text x="459" y="131" font-family="Liberation Sans, sans-serif" font-weight="bold" fill="#000" font-size="18.7">ATx1</text>
<text x="459" y="160" font-family="Liberation Sans, sans-serif" font-weight="bold" fill="#000" font-size="18.7">ATx5</text>
<text x="459" y="192" font-family="Liberation Sans, sans-serif" font-weight="bold" fill="#000" font-size="18.7">ATx10</text>
<rect x="564.2" y="91.2" width="225.70" height="118.70" fill="#4472C4"/>
<rect x="564.2" y="209.9" width="225.70" height="61.60" fill="#ED7D31"/>
<path d="M570.3 98.8V202.1" stroke="#000" stroke-width="1.7" fill="none"/>
<path d="M570.3 91.2L575.25 99.8H565.3499999999999Z M570.3 209.7L575.25 201.1H565.3499999999999Z" fill="#000"/>
<rect x="564.2" y="356.8" width="225.70" height="118.70" fill="#92D050"/>
<rect x="564.2" y="475.5" width="225.70" height="61.00" fill="#ED7D31"/>
<path d="M569.9 364.6V467.9" stroke="#000" stroke-width="1.7" fill="none"/>
<path d="M569.9 357.0L574.85 365.6H564.9499999999999Z M569.9 475.5L574.85 466.9H564.9499999999999Z" fill="#000"/>
<rect x="908.3" y="36" width="225.60" height="85.00" fill="#92D050"/>
<rect x="908.3" y="121" width="225.60" height="35.00" fill="#4472C4"/>
<rect x="908.3" y="156" width="225.60" height="60.60" fill="#ED7D31"/>
<path d="M900.9 44.6V115.0" stroke="#000" stroke-width="1.7" fill="none"/>
<path d="M900.9 37L905.85 45.6H895.9499999999999Z M900.9 122.6L905.85 114.0H895.9499999999999Z" fill="#000"/>
<path d="M900.9 127.0V151.4" stroke="#000" stroke-width="1.7" fill="none"/>
<path d="M900.9 119.4L905.85 128.0H895.9499999999999Z M900.9 159L905.85 150.4H895.9499999999999Z" fill="#000"/>
<path d="M1131 37.0H1142.3Q1144.7 37.0 1144.7 39.4V153.2Q1144.7 155.6 1142.3 155.6H1131" stroke="#000" stroke-width="3.0" fill="none"/>
<rect x="907.3" y="271.2" width="225.60" height="34.60" fill="#92D050"/>
<rect x="907.3" y="305.8" width="225.60" height="36.00" fill="#4472C4"/>
<rect x="907.3" y="341.8" width="225.60" height="60.80" fill="#ED7D31"/>
<path d="M899.5 276.8V300.0" stroke="#000" stroke-width="1.7" fill="none"/>
<path d="M899.5 269.2L904.45 277.8H894.55Z M899.5 307.6L904.45 299.0H894.55Z" fill="#000"/>
<path d="M899.5 312.20000000000005V337.29999999999995" stroke="#000" stroke-width="1.7" fill="none"/>
<path d="M899.5 304.6L904.45 313.20000000000005H894.55Z M899.5 344.9L904.45 336.29999999999995H894.55Z" fill="#000"/>
<path d="M1132.5 272.3H1143.8999999999999Q1146.3 272.3 1146.3 274.7V339.3Q1146.3 341.7 1143.8999999999999 341.7H1132.5" stroke="#000" stroke-width="3.0" fill="none"/>
<rect x="905" y="453.2" width="224.80" height="35.60" fill="#92D050"/>
<rect x="905" y="488.8" width="224.80" height="35.10" fill="#4472C4"/>
<rect x="905" y="523.9" width="224.80" height="60.70" fill="#ED7D31"/>
<path d="M897.3 458.5V482.7" stroke="#000" stroke-width="1.7" fill="none"/>
<path d="M897.3 450.9L902.25 459.5H892.3499999999999Z M897.3 490.3L902.25 481.7H892.3499999999999Z" fill="#000"/>
<path d="M897.3 494.90000000000003V519.3" stroke="#000" stroke-width="1.7" fill="none"/>
<path d="M897.3 487.3L902.25 495.90000000000003H892.3499999999999Z M897.3 526.9L902.25 518.3H892.3499999999999Z" fill="#000"/>
<path d="M1129.5 454.8H1140.6999999999998Q1143.1 454.8 1143.1 457.2V521.4Q1143.1 523.8 1140.6999999999998 523.8H1129.5" stroke="#000" stroke-width="3.0" fill="none"/>
<text transform="translate(638.00 118.80) scale(1.0250 1)" font-size="23.8" font-family="Liberation Sans, sans-serif" fill="#000">Al<tspan dy="6.8" font-size="15.2">2</tspan><tspan dy="-6.8">O</tspan><tspan dy="6.8" font-size="15.2">3</tspan></text>
<text transform="translate(574.75 166.60) scale(1.0516 1)" font-size="23.8" font-family="Liberation Sans, sans-serif" fill="#000">50 nm</text>
<text transform="translate(636.26 249.70) scale(1.0351 1)" font-size="23.8" font-family="Liberation Sans, sans-serif" fill="#000">Copper</text>
<text transform="translate(654.10 380.60) scale(0.9978 1)" font-size="23.8" font-family="Liberation Sans, sans-serif" fill="#000">TiO<tspan dy="6.8" font-size="15.2">2</tspan></text>
<text transform="translate(577.94 425.40) scale(1.0563 1)" font-size="23.8" font-family="Liberation Sans, sans-serif" fill="#000">50 nm</text>
<text transform="translate(634.66 512.50) scale(1.0377 1)" font-size="23.8" font-family="Liberation Sans, sans-serif" fill="#000">Copper</text>
<text transform="translate(992.30 28.30) scale(0.9264 1)" font-size="23.8" font-family="Liberation Sans, sans-serif" fill="#000">ATx1</text>
<text transform="translate(823.20 87.50) scale(1.0431 1)" font-size="23.8" font-family="Liberation Sans, sans-serif" fill="#000">40 nm</text>
<text transform="translate(820.49 148.80) scale(1.0540 1)" font-size="23.8" font-family="Liberation Sans, sans-serif" fill="#000">10 nm</text>
<text transform="translate(993.80 89.00) scale(0.9911 1)" font-size="23.8" font-family="Liberation Sans, sans-serif" fill="#000">TiO<tspan dy="6.8" font-size="15.2">2</tspan></text>
<text transform="translate(987.00 146.80) scale(1.0232 1)" font-size="23.8" font-family="Liberation Sans, sans-serif" fill="#000">Al<tspan dy="6.8" font-size="15.2">2</tspan><tspan dy="-6.8">O</tspan><tspan dy="6.8" font-size="15.2">3</tspan></text>
<text transform="translate(978.96 192.10) scale(1.0351 1)" font-size="23.8" font-family="Liberation Sans, sans-serif" fill="#000">Copper</text>
<text transform="translate(1154.00 103.30) scale(0.9771 1)" font-size="25.6" font-family="Liberation Sans, sans-serif" fill="#000" font-weight="bold">x 1</text>
<text transform="translate(1000.50 259.60) scale(0.9340 1)" font-size="23.8" font-family="Liberation Sans, sans-serif" fill="#000">ATx5</text>
<text transform="translate(834.95 297.00) scale(1.0549 1)" font-size="23.8" font-family="Liberation Sans, sans-serif" fill="#000">5 nm</text>
<text transform="translate(833.75 334.30) scale(1.0490 1)" font-size="23.8" font-family="Liberation Sans, sans-serif" fill="#000">5 nm</text>
<text transform="translate(1005.40 297.00) scale(1.0000 1)" font-size="23.8" font-family="Liberation Sans, sans-serif" fill="#000">TiO<tspan dy="6.8" font-size="15.2">2</tspan></text>
<text transform="translate(998.50 332.80) scale(1.0196 1)" font-size="23.8" font-family="Liberation Sans, sans-serif" fill="#000">Al<tspan dy="6.8" font-size="15.2">2</tspan><tspan dy="-6.8">O</tspan><tspan dy="6.8" font-size="15.2">3</tspan></text>
<text transform="translate(984.47 378.10) scale(1.0286 1)" font-size="23.8" font-family="Liberation Sans, sans-serif" fill="#000">Copper</text>
<text transform="translate(1154.80 318.90) scale(0.9829 1)" font-size="25.6" font-family="Liberation Sans, sans-serif" fill="#000" font-weight="bold">x 5</text>
<text transform="translate(989.60 443.00) scale(0.9621 1)" font-size="23.8" font-family="Liberation Sans, sans-serif" fill="#000">ATx10</text>
<text transform="translate(809.64 479.40) scale(1.0592 1)" font-size="23.8" font-family="Liberation Sans, sans-serif" fill="#000">2.5 nm</text>
<text transform="translate(809.64 516.20) scale(1.0592 1)" font-size="23.8" font-family="Liberation Sans, sans-serif" fill="#000">2.5 nm</text>
<text transform="translate(998.60 479.40) scale(1.0067 1)" font-size="23.8" font-family="Liberation Sans, sans-serif" fill="#000">TiO<tspan dy="6.8" font-size="15.2">2</tspan></text>
<text transform="translate(989.20 515.70) scale(1.0214 1)" font-size="23.8" font-family="Liberation Sans, sans-serif" fill="#000">Al<tspan dy="6.8" font-size="15.2">2</tspan><tspan dy="-6.8">O</tspan><tspan dy="6.8" font-size="15.2">3</tspan></text>
<text transform="translate(982.37 560.00) scale(1.0325 1)" font-size="23.8" font-family="Liberation Sans, sans-serif" fill="#000">Copper</text>
<text transform="translate(1150.10 502.30) scale(1.0224 1)" font-size="25.6" font-family="Liberation Sans, sans-serif" fill="#000" font-weight="bold">x 10</text>
</svg>
</body></html>
